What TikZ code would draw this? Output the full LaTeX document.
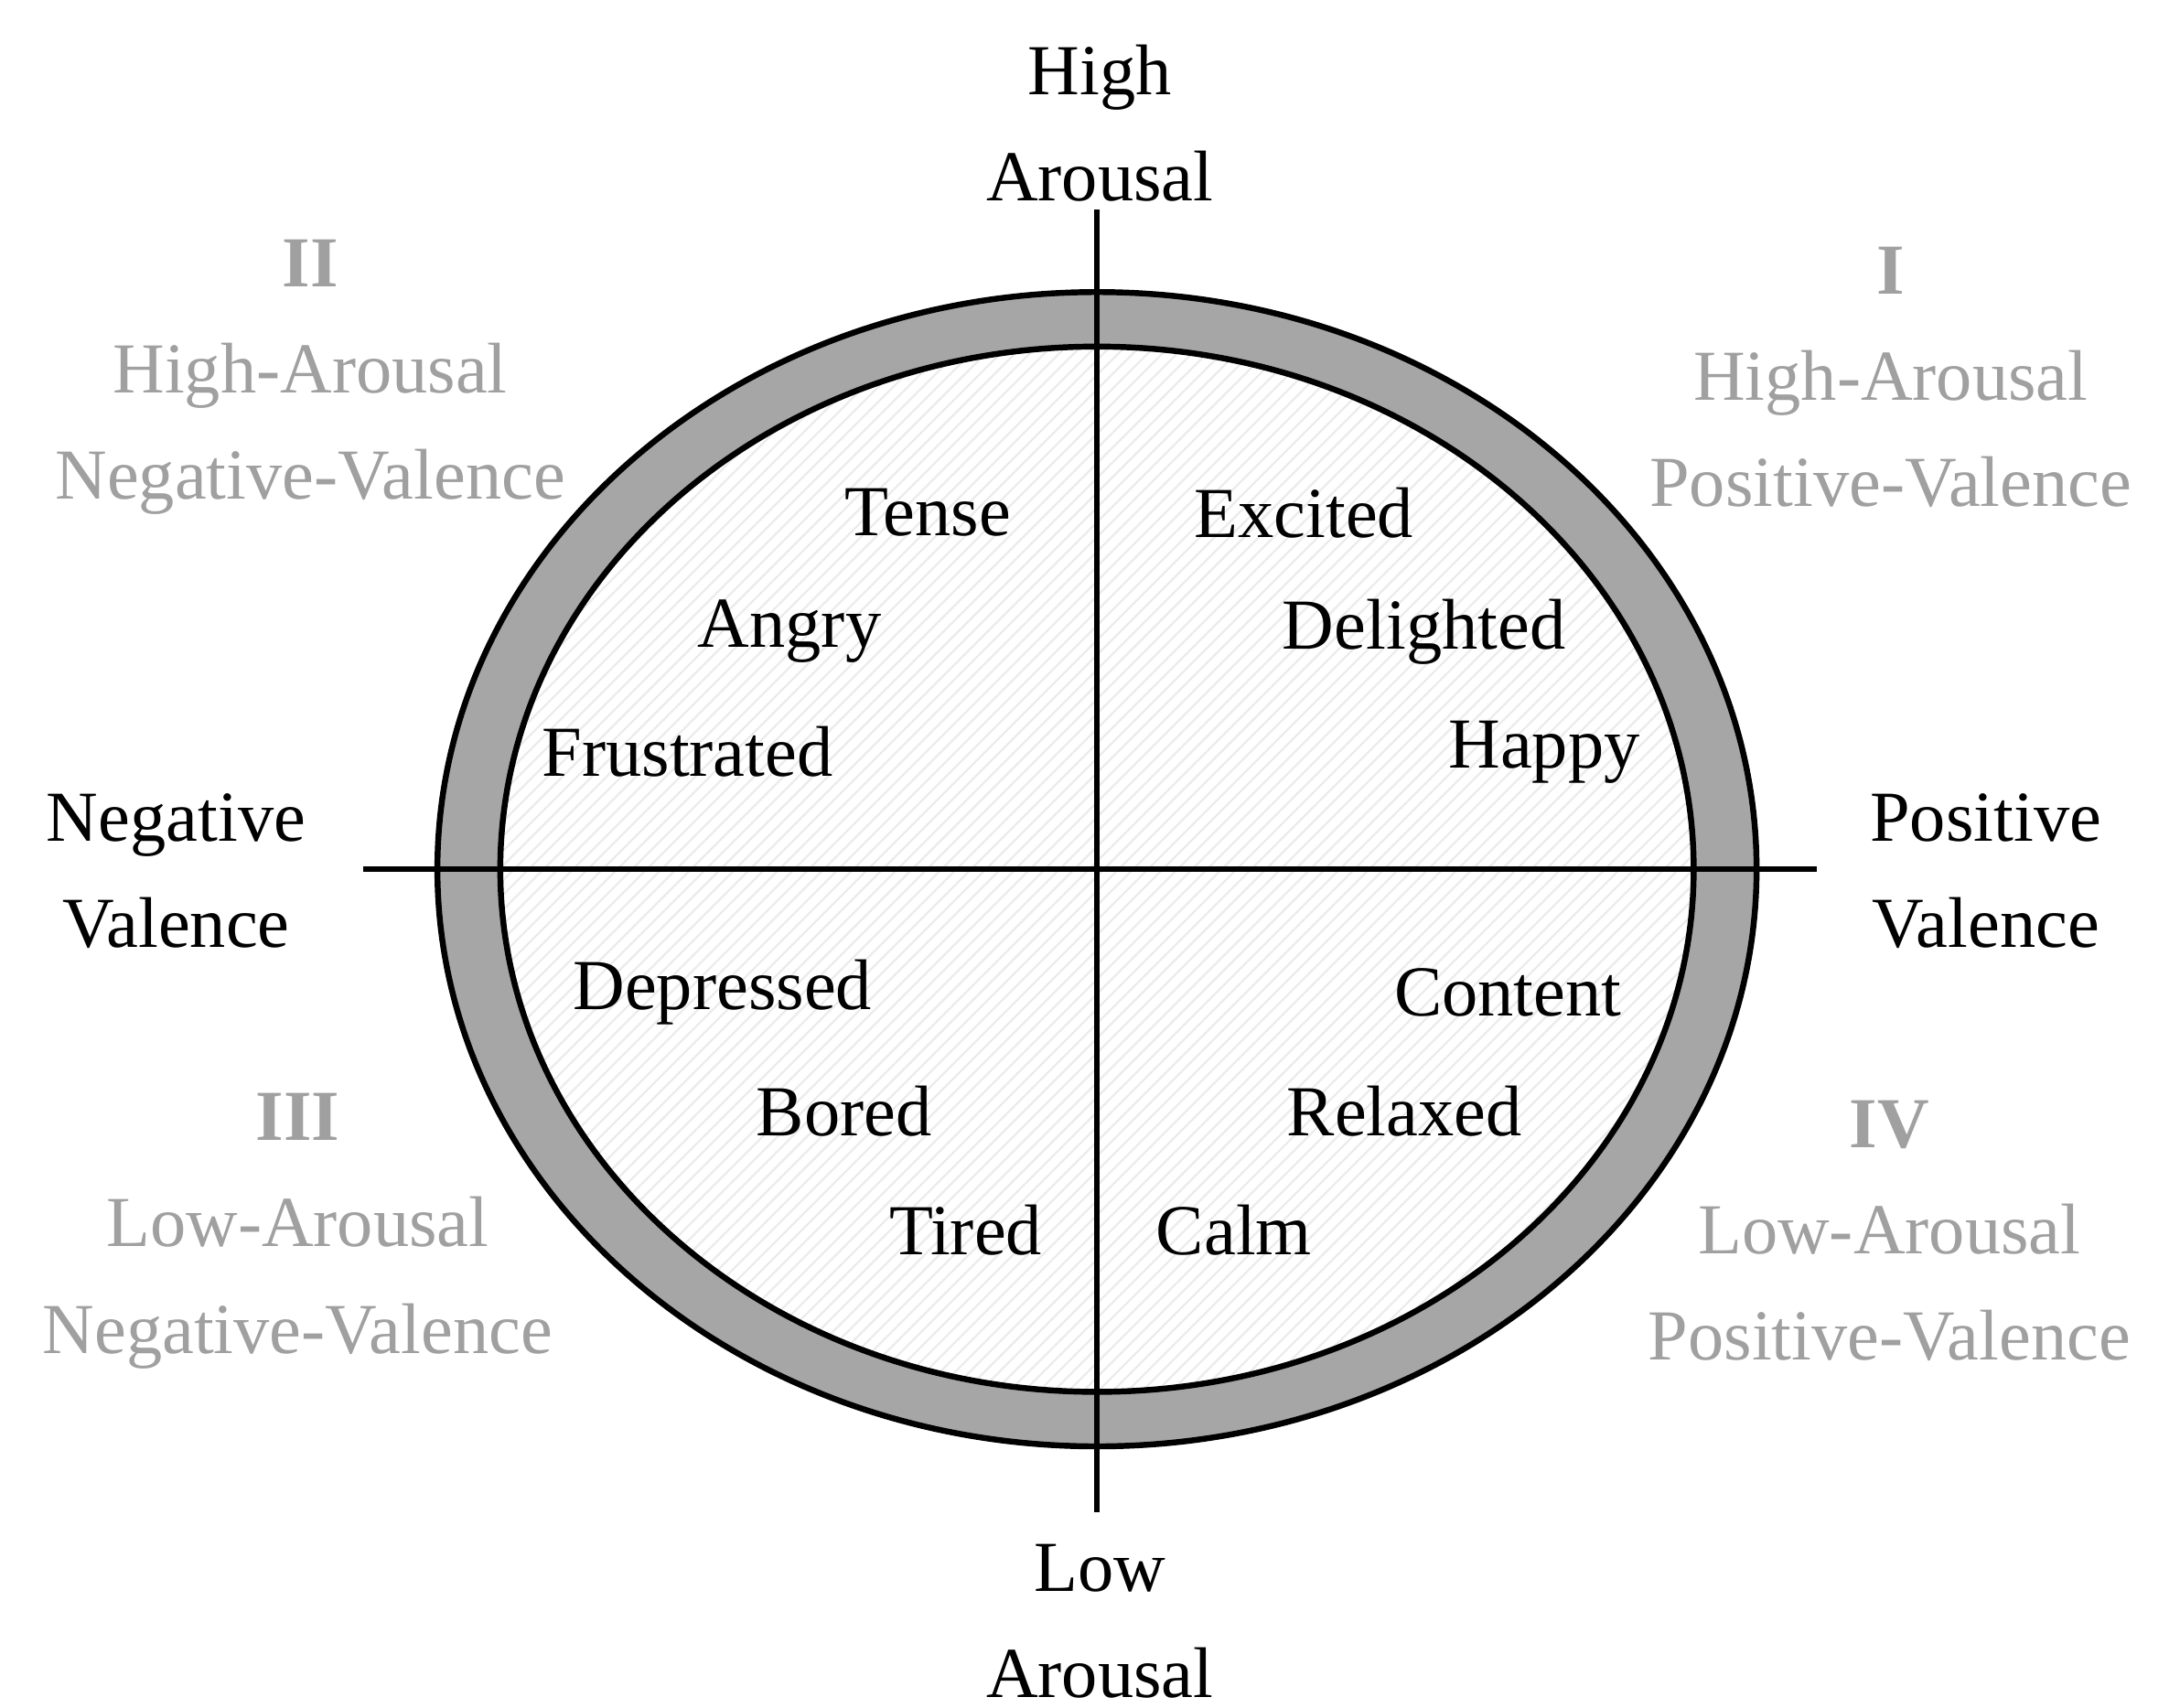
\documentclass[tikz,border=0pt]{standalone}
\usepackage{fontspec}
\setmainfont{Liberation Serif}
\usetikzlibrary{patterns}
\definecolor{qgray}{HTML}{A0A0A0}
\definecolor{ringgray}{HTML}{A6A6A6}
\begin{document}
\begin{tikzpicture}[x=0.01cm,y=-0.01cm,
  lbl/.style={font=\fontsize{14.6}{15.6}\selectfont,align=center,inner sep=0pt},
  quad/.style={lbl,text=qgray},
  axis/.style={line width=1.2pt}]
\useasboundingbox (0,0) rectangle (1560,1222);
\fill[ringgray,draw=black,line width=1.2pt] (785,622) ellipse [x radius=472,y radius=413];
\fill[white] (785,622) ellipse [x radius=427,y radius=374];
\fill[pattern=north east lines,pattern color=black!8] (785,622) ellipse [x radius=427,y radius=374];
\draw[line width=1.2pt] (785,622) ellipse [x radius=427,y radius=374];
\coordinate (t) at (785,150); \coordinate (b) at (785,1082);
\coordinate (l) at (260,622); \coordinate (r) at (1300,622);
\draw[axis] (t) -- (b);
\draw[axis] (l) -- (r);
\node[lbl] (ha) at (787,88) {High\\[6pt]Arousal};
\node[lbl] (la) at (787,1160) {Low\\[6pt]Arousal};
\node[lbl] (nv) at (126,623) {Negative\\[6pt]Valence};
\node[lbl] (pv) at (1421,623) {Positive\\[6pt]Valence};
\node[quad] (q2) at (222,270) {\textbf{II}\\[6pt]High-Arousal\\[6pt]Negative-Valence};
\node[quad] (q1) at (1353,270) {\textbf{I}\\[6pt]High-Arousal\\[6pt]Positive-Valence};
\node[quad] (q3) at (213,881) {\textbf{III}\\[6pt]Low-Arousal\\[6pt]Negative-Valence};
\node[quad] (q4) at (1352,881) {\textbf{IV}\\[6pt]Low-Arousal\\[6pt]Positive-Valence};
\node[lbl] (e1) at (664,367) {Tense};
\node[lbl] (e2) at (565,452) {Angry};
\node[lbl] (e3) at (492,538) {Frustrated};
\node[lbl] (e4) at (933,367) {Excited};
\node[lbl] (e5) at (1019,452) {Delighted};
\node[lbl] (e6) at (1105,538) {Happy};
\node[lbl] (e7) at (517,710) {Depressed};
\node[lbl] (e8) at (604,795) {Bored};
\node[lbl] (e9) at (691,880) {Tired};
\node[lbl] (e10) at (1079,710) {Content};
\node[lbl] (e11) at (1005,795) {Relaxed};
\node[lbl] (e12) at (883,880) {Calm};
\end{tikzpicture}
\end{document}
